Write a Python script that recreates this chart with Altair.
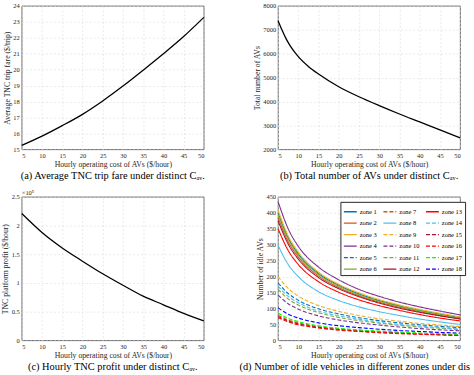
import altair as alt
import pandas as pd

FONT = "Liberation Serif"
INK = "#262626"

# ---------------- data ----------------
cost10 = [5, 10, 15, 20, 25, 30, 35, 40, 45, 50]
fare = [15.25, 15.83, 16.49, 17.2, 18.04, 18.97, 19.97, 21.0, 22.08, 23.28]

cost_b = [5, 6, 7, 8, 10, 12.5, 15, 20, 25, 30, 35, 40, 45, 50]
total_avs = [7380, 6980, 6620, 6330, 5880, 5470, 5150, 4620, 4200, 3830, 3480, 3150, 2820, 2480]

profit_1e5 = [2.21, 1.88, 1.61, 1.38, 1.16, 0.96, 0.77, 0.62, 0.47, 0.34]

cost_d = [5, 7.5, 10, 15, 20, 25, 30, 35, 40, 45, 50]
z1 = [400, 322, 272, 210, 173, 146, 125, 108, 94, 82, 71]
z2 = [385, 310, 262, 202, 166, 140, 120, 104, 90, 78, 68]
z3 = [408, 328, 277, 214, 176, 149, 128, 111, 97, 85, 74]
z4 = [435, 350, 295, 230, 190, 160, 138, 120, 105, 92, 80]
z5 = [180, 147, 126, 99, 83, 71, 62, 55, 49, 44, 40]
z6 = [395, 318, 268, 207, 170, 143, 123, 107, 93, 81, 70]
z7 = [80, 64, 55, 43, 36, 31, 27, 24, 21, 19, 17]
z8 = [298, 238, 200, 153, 125, 105, 90, 78, 67, 58, 50]
z9 = [200, 163, 139, 109, 91, 78, 68, 60, 53, 48, 43]
z10 = [142, 115, 98, 77, 64, 55, 48, 42, 37, 33, 30]
z11 = [160, 130, 111, 87, 72, 62, 54, 47, 42, 38, 34]
z12 = [375, 302, 255, 197, 162, 137, 117, 101, 88, 77, 67]
z13 = [350, 282, 238, 184, 151, 127, 109, 94, 81, 70, 61]
z14 = [170, 138, 118, 92, 77, 66, 57, 50, 45, 40, 36]
z15 = [75, 61, 52, 41, 34, 29, 26, 23, 20, 18, 16]
z16 = [72, 58, 49, 39, 32, 28, 24, 21, 19, 17, 15]
z17 = [86, 69, 59, 46, 38, 33, 29, 26, 23, 21, 19]
z18 = [102, 82, 70, 55, 46, 40, 35, 31, 28, 25, 23]
zone_series = [z1, z2, z3, z4, z5, z6, z7, z8, z9, z10, z11, z12, z13, z14, z15, z16, z17, z18]

zone_colors = ["#0072BD", "#D95319", "#EDB120", "#7E2F8E", "#0072BD", "#77AC30",
               "#D95319", "#4DBEEE", "#EDB120", "#7E2F8E", "#77AC30", "#A2142F",
               "#FF0000", "#4DBEEE", "#A2142F", "#FF0000", "#00FF00", "#0000FF"]
zone_dashed = [False, False, False, False, True, False,
               True, False, True, True, True, False,
               False, True, True, True, True, True]

x_ticks = [5, 10, 15, 20, 25, 30, 35, 40, 45, 50]

captions = [
    "(a) Average TNC trip fare under distinct Cₐᵥ.",
    "(b) Total number of AVs under distinct Cₐᵥ.",
    "(c) Hourly TNC profit under distinct Cₐᵥ.",
    "(d) Number of idle vehicles in different zones under distinct Cₐᵥ.",
]

# ---------------- tables ----------------
df_a = pd.DataFrame({"cost": cost10, "v": fare})
df_b = pd.DataFrame({"cost": cost_b, "v": total_avs})
df_c = pd.DataFrame({"cost": cost10, "v": profit_1e5})
rows = []
for i, s in enumerate(zone_series):
    for c, v in zip(cost_d, s):
        rows.append({"cost": c, "v": v, "zone": f"zone {i + 1}"})
df_d = pd.DataFrame(rows)

# legend order: 3 columns x 6 rows, filled column by column
legend_order = []
for r in range(6):
    for col in range(3):
        legend_order.append(col * 6 + r + 1)
dom = [f"zone {k}" for k in legend_order]
col_range = [zone_colors[k - 1] for k in legend_order]
dash_range = [[4, 2] if zone_dashed[k - 1] else [1, 0] for k in legend_order]

W, H = 184, 145
SP_COL, SP_ROW = 75, 48
CAP_SIZE = 10.5


def x_enc():
    return alt.X("cost:Q", scale=alt.Scale(domain=[5, 50], nice=False, zero=False),
                 axis=alt.Axis(values=x_ticks, title="Hourly operating cost of AVs ($/hour)",
                               labelPadding=3, titlePadding=1.5))


def caption(t):
    return alt.TitleParams(t, orient="bottom", anchor="middle", offset=3,
                           font=FONT, fontSize=CAP_SIZE, fontWeight="normal", color="black")


def single(df, dom_y, yvals, ytitle):
    return alt.Chart(df).mark_line(color="black", strokeWidth=1.3, interpolate="monotone").encode(
        x=x_enc(),
        y=alt.Y("v:Q", scale=alt.Scale(domain=dom_y, nice=False, zero=False),
                axis=alt.Axis(values=yvals, title=ytitle, format="d" if dom_y[1] > 10 else "",
                              labelPadding=2.5, titlePadding=1.5)),
    )


pa = single(df_a, [15, 24], list(range(15, 25)), "Average TNC trip fare ($/trip)").properties(
    width=W, height=H, title=caption(captions[0]))

pb = single(df_b, [2000, 8000], list(range(2000, 8001, 1000)), "Total number of AVs").properties(
    width=W, height=H, title=caption(captions[1]))

line_c = single(df_c, [0, 2.5], [0, 0.5, 1, 1.5, 2, 2.5], "TNC platform profit ($/hour)")
exp_c = alt.Chart(pd.DataFrame({"t": ["×10⁵"]})).mark_text(
    align="left", baseline="bottom", font=FONT, fontSize=6.5, color=INK
).encode(x=alt.value(0), y=alt.value(-1), text="t:N")
pc = alt.layer(line_c, exp_c).properties(
    width=W, height=H, title=caption(captions[2]))

lines_d = alt.Chart(df_d).mark_line(strokeWidth=1.1, interpolate="monotone").encode(
    x=x_enc(),
    y=alt.Y("v:Q", scale=alt.Scale(domain=[0, 450], nice=False, zero=False),
            axis=alt.Axis(values=list(range(0, 451, 50)), title="Number of idle AVs",
                          labelPadding=2.5, titlePadding=1.5)),
    color=alt.Color("zone:N", sort=dom, scale=alt.Scale(domain=dom, range=col_range),
                    legend=alt.Legend(title=None, orient="none",
                                      legendX=W + SP_COL + 63, legendY=H + SP_ROW + 5,
                                      columns=3, direction="horizontal",
                                      symbolType="stroke", symbolSize=169,
                                      symbolStrokeWidth=1.3, labelFont=FONT, labelFontSize=6.5,
                                      labelColor="black", rowPadding=0.6, columnPadding=3,
                                      labelOffset=2, fillColor="white", strokeColor=INK,
                                      padding=2.5)),
    strokeDash=alt.StrokeDash("zone:N", sort=dom, scale=alt.Scale(domain=dom, range=dash_range),
                              legend=None),
    detail="zone:N",
)
cap_d = alt.Chart(pd.DataFrame({"t": [captions[3]]})).mark_text(
    align="left", baseline="middle", font=FONT, fontSize=CAP_SIZE, color="black",
    limit=236, ellipsis=" "
).encode(x=alt.value(-39), y=alt.value(H + 27), text="t:N")
pd_ = alt.layer(lines_d, cap_d).properties(width=W, height=H)

chart = alt.concat(pa, pb, pc, pd_, columns=2, spacing=alt.RowColnumber(row=SP_ROW, column=SP_COL),
                   align="all", bounds="flush").properties(
    padding={"left": 1, "top": 0, "right": 0, "bottom": 0},
    background="white",
).configure_axis(
    labelFont=FONT, titleFont=FONT, labelFontSize=6.5, titleFontSize=7.8,
    labelColor=INK, titleColor=INK, titleFontWeight="normal",
    grid=True, gridColor="#dcdcdc", gridDash=[2, 2], gridWidth=0.6,
    domain=False, ticks=False,
).configure_view(stroke=INK, strokeWidth=0.7)

chart.save("out.html", embed_options={"renderer": "svg", "actions": False})
